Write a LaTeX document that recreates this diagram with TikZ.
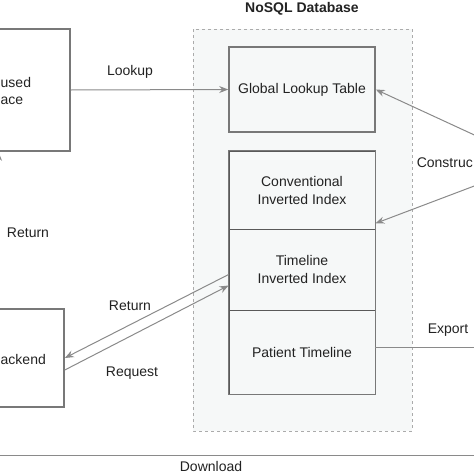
\documentclass[tikz,border=0pt]{standalone}
\usepackage{fontspec}
\setmainfont{Liberation Sans}
\usetikzlibrary{arrows.meta}
\definecolor{boxgray}{HTML}{787878}
\definecolor{linegray}{HTML}{8A8A8A}
\definecolor{dbfill}{HTML}{F6F8F8}
\definecolor{dbline}{HTML}{ABABAB}
\definecolor{txt}{HTML}{222222}
\begin{document}
\begin{tikzpicture}[x=1pt, y=-1pt, font=\fontsize{14}{18}\selectfont, text=txt]
        \tikzstyle{box}=[draw=boxgray, line width=1.6pt, minimum width=146pt, align=center, inner sep=0pt]
        \tikzstyle{cell}=[draw=black!65, line width=0.8pt, minimum width=146pt, align=center, inner sep=0pt]
        \tikzstyle{arr}=[draw=linegray, line width=1pt, -{Stealth[length=9pt, width=7pt]}]
        \tikzstyle{lbl}=[anchor=base, inner sep=0pt]

        \useasboundingbox (0,0) rectangle (474,474);
        \clip (0,0) rectangle (474,474);

        % NoSQL container
        \draw[dbline, dashed, line width=0.8pt, fill=dbfill] (193,29) rectangle (412,431);
        \node[lbl, font=\fontsize{14}{18}\selectfont\bfseries] (dbtitle) at (302,12) {NoSQL Database};

        \node[box, minimum width=160pt, minimum height=122pt] (iface) at (-10,90) {};
        \node[lbl, anchor=base west] (ifacea) at (0.5,87) {used};
        \node[lbl, anchor=base west] (ifaceb) at (0.5,104) {ace};
        \node[box, minimum width=160pt, minimum height=98pt] (backend) at (-16,358) {};
        \node[lbl, anchor=base west] (backendt) at (0.5,364) {ackend};

        \node[box, minimum height=85pt] (glt) at (302,89.5) {Global Lookup Table};
        \node[cell, minimum height=78pt] (conv) at (302,190) {Conventional\\Inverted Index};
        \node[cell, minimum height=81pt] (tl) at (302,269.5) {Timeline\\Inverted Index};
        \node[cell, minimum height=84pt] (pt) at (302,352) {Patient Timeline};
        \draw[boxgray, line width=1.6pt] (conv.north west) rectangle (pt.south east);

        \coordinate (constr) at (535,163);
        \coordinate (expt) at (520,347);
        \coordinate (retfrom) at (-1.5,309);
        \coordinate (dl) at (-5,455);
        \coordinate (dr) at (480,455);

        \draw[arr] (iface.east) -- (glt.west);
        \node[lbl] (lookup) at (130,75) {Lookup};

        \draw[arr] (constr) -- (glt.east);
        \draw[arr] (constr) -- ([yshift=6pt]conv.south east);
        \node[lbl, anchor=base east] (construc) at (473,167) {Construc};

        \draw[arr] ([yshift=5pt]pt.east) -- (expt);
        \node[lbl] (export) at (448,333) {Export};

        \draw[arr] ([yshift=-5pt]tl.west) -- (backend.east);
        \draw[arr] ([yshift=-12pt]backend.east) -- ([yshift=-16pt]tl.west);
        \node[lbl] (ret) at (130,310) {Return};
        \node[lbl] (req) at (132,376) {Request};

        \draw[arr] (retfrom) -- (iface.south -| retfrom);
        \node[lbl] (retleft) at (28,237) {Return};

        \draw[linegray, line width=1pt] (dl) -- (dr);
        \node[lbl] (download) at (211,471) {Download};
\end{tikzpicture}
\end{document}
